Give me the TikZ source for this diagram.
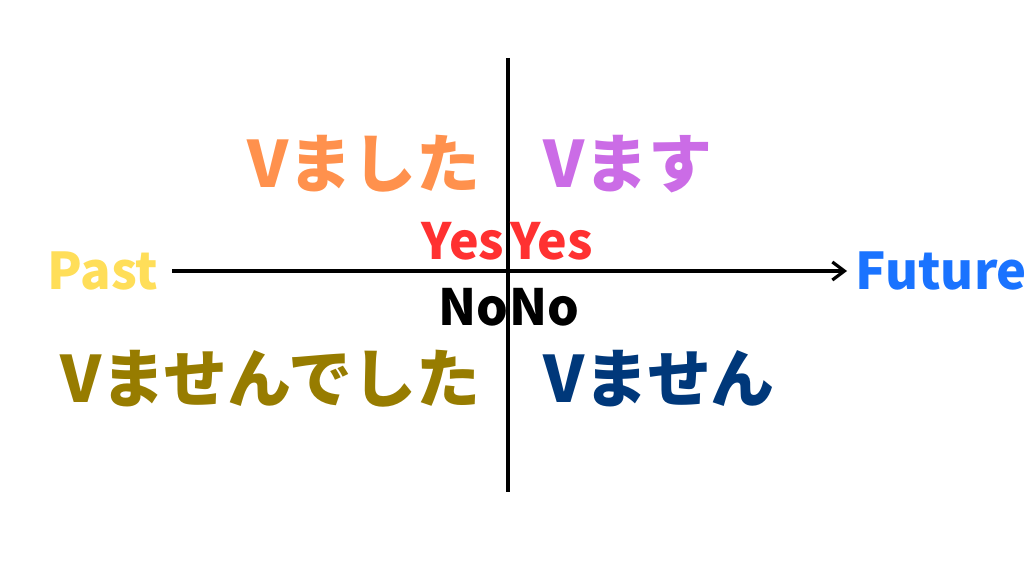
\documentclass[tikz,border=0pt]{standalone}
\usepackage{fontspec}
\setmainfont{Noto Sans CJK JP}
\usetikzlibrary{arrows.meta}

\definecolor{pastyellow}{HTML}{FFDE59}
\definecolor{futureblue}{HTML}{1A73FF}
\definecolor{formorange}{HTML}{FF914D}
\definecolor{formpurple}{HTML}{CB6CE6}
\definecolor{yesred}{HTML}{FF3131}
\definecolor{formolive}{HTML}{977C00}
\definecolor{formnavy}{HTML}{00387A}

\begin{document}
\begin{tikzpicture}[
            x=0.01cm, y=-0.01cm,
            form/.style={inner sep=0pt, font=\bfseries\fontsize{18.2}{21}\selectfont},
            tense/.style={inner sep=0pt, font=\bfseries\fontsize{14.4}{16}\selectfont},
            answer/.style={inner sep=0pt, font=\bfseries\fontsize{14.2}{16}\selectfont},
            axis/.style={line width=0.9pt},
            arrow/.style={-{Straight Barb[length=1.2mm, width=1.8mm]}, line width=0.9pt}
            ]
            \useasboundingbox (0,0) rectangle (1024,576);

            % Time line
            \node[tense, anchor=west, text=pastyellow] (past) at (47,271) {Past};
            \node[tense, anchor=west, text=futureblue] (future) at (855,271) {Future};
            \draw[arrow, shorten <=0.13cm, shorten >=0.08cm] (past) -- (future);

            % Vertical axis
            \coordinate (top) at (508,58);
            \coordinate (bottom) at (508,492);
            \draw[axis] (top) -- (bottom);

            % Affirmative forms
            \node[form, anchor=base east, text=formorange] (mashita) at (481,188) {Vました};
            \node[form, anchor=base west, text=formpurple] (masu) at (543,188) {Vます};

            % Negative forms
            \node[form, anchor=base east, text=formolive] (masendeshita) at (481,402) {Vませんでした};
            \node[form, anchor=base west, text=formnavy] (masen) at (543,402) {Vません};

            % Yes / No
            \node[answer, anchor=base east, text=yesred] (yespast) at (505,260) {Yes};
            \node[answer, anchor=base west, text=yesred] (yesfuture) at (510,260) {Yes};
            \node[answer, anchor=base east] (nopast) at (509,325) {No};
            \node[answer, anchor=base west] (nofuture) at (509,325) {No};

        \end{tikzpicture}
\end{document}
